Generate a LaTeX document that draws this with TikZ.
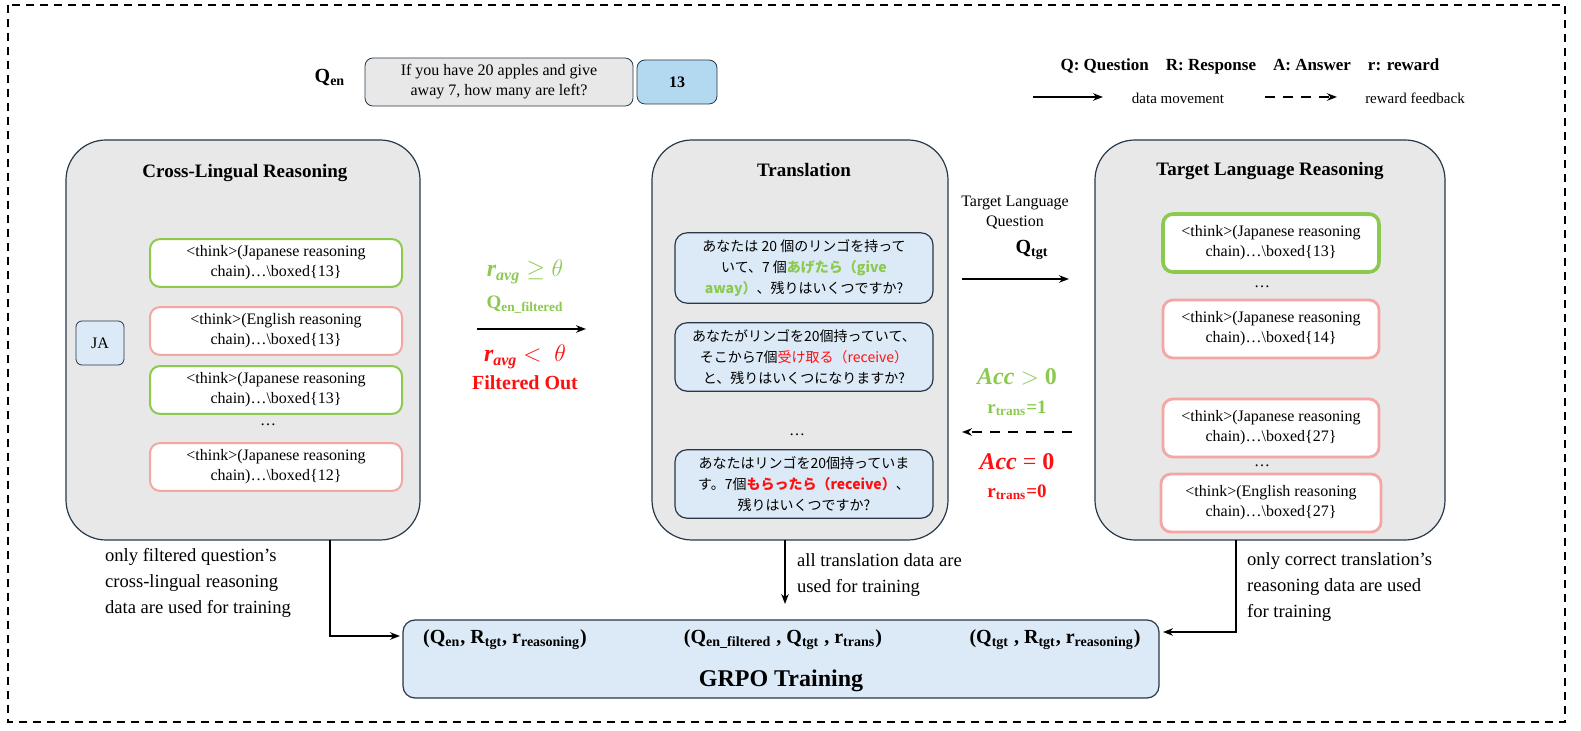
\documentclass[tikz,border=0pt]{standalone}
\usepackage{amsmath,bm}
\usepackage{fontspec}
\setmainfont{Liberation Serif}
\newfontfamily\cjk{Noto Sans CJK JP}
\usetikzlibrary{arrows.meta}
\definecolor{gr}{HTML}{8CC94F}
\definecolor{rd}{HTML}{FF1010}
\definecolor{pk}{HTML}{F4A6A2}
\definecolor{lb}{HTML}{DCE9F6}
\definecolor{pg}{HTML}{E8E8E8}
\definecolor{dk}{HTML}{26384A}
\newcommand{\ravg}{\textbf{\textit{r\textsubscript{avg}}}}
\begin{document}
\begin{tikzpicture}[x=0.5pt,y=-0.5pt,
 panel/.style={draw=dk,fill=pg,rounded corners=20pt,line width=0.6pt},
 gbox/.style={draw=gr,fill=white,rounded corners=5pt,line width=1pt,align=center,font=\fontsize{8}{10}\selectfont},
 rbox/.style={draw=pk,fill=white,rounded corners=5pt,line width=1pt,align=center,font=\fontsize{8}{10}\selectfont},
 jbox/.style={draw=dk,fill=lb,rounded corners=6pt,line width=0.6pt,align=center,font=\cjk\fontsize{7}{10.5}\selectfont},
 arr/.style={-{Stealth[length=5pt]},line width=0.8pt},
 darr/.style={-{Stealth[length=5pt]},line width=0.8pt,dash pattern=on 5pt off 4pt},
 ttl/.style={font=\bfseries\fontsize{9.5}{11}\selectfont},
 note/.style={font=\fontsize{9.3}{12.8}\selectfont,align=left}]
\useasboundingbox (0,0) rectangle (1581,731);
\draw[line width=0.6pt,dash pattern=on 4pt off 3pt] (8,5) rectangle (1565,722);
% top question
\node[font=\bfseries\fontsize{10}{12}\selectfont] (qen) at (330,78) {Q\textsubscript{en}};
\node[draw=dk,fill=pg,rounded corners=4pt,minimum width=134pt,minimum height=22pt,align=center,font=\fontsize{8}{10}\selectfont] (q) at (499,82) {If you have 20 apples and give\\away 7, how many are left?};
\node[draw=dk,fill=cyan!20!lb,rounded corners=4pt,minimum width=40pt,minimum height=22pt,font=\bfseries\fontsize{8}{10}\selectfont] (a) at (677,82) {13};
% legend
\node[font=\bfseries\fontsize{8.5}{10}\selectfont] (leg) at (1250,66) {Q: Question\quad R: Response\quad A: Answer\quad r: reward};
\coordinate (l1a) at (1033,97); \coordinate (l1b) at (1103,97);
\draw[arr] (l1a) -- (l1b);
\node[font=\fontsize{7.5}{9}\selectfont] (lt1) at (1178,98) {data movement};
\coordinate (l2a) at (1265,97); \coordinate (l2b) at (1337,97);
\draw[darr] (l2a) -- (l2b);
\node[font=\fontsize{7.5}{9}\selectfont] (lt2) at (1415,98) {reward feedback};
% panels
\draw[panel] (66,140) rectangle (420,540);
\node[ttl] (t1) at (245,173) {Cross-Lingual Reasoning};
\draw[panel] (652,140) rectangle (948,540);
\node[ttl] (t2) at (804,170) {Translation};
\draw[panel] (1095,140) rectangle (1445,540);
\node[ttl] (t3) at (1270,171) {Target Language Reasoning};
\coordinate (p1b) at (330,540); \coordinate (p2b) at (785,540); \coordinate (p3b) at (1236,540);
% cross-lingual boxes
\node[gbox,minimum width=126pt,minimum height=23pt] (c1) at (276,263) {<think>(Japanese reasoning\\chain)…\textbackslash boxed\{13\}};
\node[rbox,minimum width=126pt,minimum height=23pt] (c2) at (276,331) {<think>(English reasoning\\chain)…\textbackslash boxed\{13\}};
\node[gbox,minimum width=126pt,minimum height=23pt] (c3) at (276,390) {<think>(Japanese reasoning\\chain)…\textbackslash boxed\{13\}};
\node[font=\fontsize{8}{10}\selectfont] (cd) at (268,425) {…};
\node[rbox,minimum width=126pt,minimum height=23pt] (c4) at (276,467) {<think>(Japanese reasoning\\chain)…\textbackslash boxed\{12\}};
\node[draw=dk,fill=lb,rounded corners=3pt,minimum width=24pt,minimum height=22pt,font=\fontsize{8}{10}\selectfont] (ja) at (100,343) {JA};
% filter arrow
\coordinate (fa) at (477,329); \coordinate (fb) at (586,329);
\draw[arr] (fa) -- (fb);
\node[text=gr,font=\fontsize{12}{13}\selectfont] (ra1) at (525,272) {\ravg\ $\geq\theta$};
\node[text=gr,font=\bfseries\fontsize{9.5}{11}\selectfont] (qf) at (525,305) {Q\textsubscript{en\_filtered}};
\node[text=rd,font=\fontsize{12}{13}\selectfont] (ra2) at (525,357) {\ravg\ $<\ \theta$};
\node[text=rd,font=\bfseries\fontsize{10}{12}\selectfont] (fo) at (525,383) {Filtered Out};
% translation boxes
\node[jbox,minimum width=129pt,minimum height=30pt] (j1) at (804,268) {あなたは 20 個のリンゴを持って\\いて、7 個{\color{gr}\bfseries あげたら（give}\\{\color{gr}\bfseries away）}、残りはいくつですか?};
\node[jbox,minimum width=129pt,minimum height=30pt] (j2) at (804,357) {あなたがリンゴを20個持っていて、\\そこから7個{\color{rd}受け取る（receive）}\\と、残りはいくつになりますか?};
\node[font=\fontsize{8}{10}\selectfont] (jd) at (797,435) {…};
\node[jbox,minimum width=129pt,minimum height=30pt] (j3) at (804,484) {あなたはリンゴを20個持っていま\\す。7個{\color{rd}\bfseries もらったら（receive）}、\\残りはいくつですか?};
% translation->target
\coordinate (qa) at (962,279); \coordinate (qb) at (1069,279);
\draw[arr] (qa) -- (qb);
\node[align=center,font=\fontsize{8}{10}\selectfont] (tlq) at (1015,213) {Target Language\\Question};
\node[font=\bfseries\fontsize{10}{12}\selectfont] (qt) at (1032,250) {Q\textsubscript{tgt}};
\coordinate (da) at (1072,432); \coordinate (db) at (962,432);
\draw[darr] (da) -- (db);
\node[text=gr,font=\fontsize{12}{13}\selectfont] (acc1) at (1017,377) {\textbf{\textit{Acc}} $>$ \textbf{0}};
\node[text=gr,font=\bfseries\fontsize{9.5}{11}\selectfont] (rt1) at (1017,408) {r\textsubscript{trans}=1};
\node[text=rd,font=\fontsize{12}{13}\selectfont] (acc0) at (1017,462) {\textbf{\textit{Acc}} = \textbf{0}};
\node[text=rd,font=\bfseries\fontsize{9.5}{11}\selectfont] (rt0) at (1017,492) {r\textsubscript{trans}=0};
% target boxes
\node[gbox,line width=1.8pt,minimum width=108pt,minimum height=29pt] (g1) at (1271,243) {<think>(Japanese reasoning\\chain)…\textbackslash boxed\{13\}};
\node[font=\fontsize{8}{10}\selectfont] (gd1) at (1262,287) {…};
\node[rbox,line width=1.4pt,minimum width=108pt,minimum height=29pt] (g2) at (1271,329) {<think>(Japanese reasoning\\chain)…\textbackslash boxed\{14\}};
\node[rbox,line width=1.4pt,minimum width=108pt,minimum height=29pt] (g3) at (1271,428) {<think>(Japanese reasoning\\chain)…\textbackslash boxed\{27\}};
\node[font=\fontsize{8}{10}\selectfont] (gd2) at (1262,466) {…};
\node[rbox,line width=1.4pt,minimum width=110pt,minimum height=29pt] (g4) at (1271,503) {<think>(English reasoning\\chain)…\textbackslash boxed\{27\}};
% GRPO
\node[draw=dk,fill=lb,rounded corners=6pt,minimum width=378pt,minimum height=39pt,line width=0.6pt] (grpo) at (781,659) {};
\node[font=\bfseries\fontsize{12}{14}\selectfont] (gt) at (781,681) {GRPO Training};
\node[font=\bfseries\fontsize{10}{12}\selectfont] (tp1) at (505,640) {(Q\textsubscript{en}, R\textsubscript{tgt}, r\textsubscript{reasoning})};
\node[font=\bfseries\fontsize{10}{12}\selectfont] (tp2) at (783,640) {(Q\textsubscript{en\_filtered} , Q\textsubscript{tgt} , r\textsubscript{trans})};
\node[font=\bfseries\fontsize{10}{12}\selectfont] (tp3) at (1055,640) {(Q\textsubscript{tgt} , R\textsubscript{tgt}, r\textsubscript{reasoning})};
% bottom connectors
\coordinate (e1) at (400,636); \coordinate (e2) at (785,604); \coordinate (e3) at (1163,632);
\draw[arr] (p1b) |- (e1);
\draw[arr] (p2b) -- (e2);
\draw[arr] (p3b) |- (e3);
\node[note,anchor=west] (n1) at (98,583) {only filtered question's\\cross-lingual reasoning\\data are used for training};
\node[note,anchor=west] (n2) at (790,575) {all translation data are\\used for training};
\node[note,anchor=west] (n3) at (1240,587) {only correct translation's\\reasoning data are used\\for training};
\end{tikzpicture}
\end{document}
